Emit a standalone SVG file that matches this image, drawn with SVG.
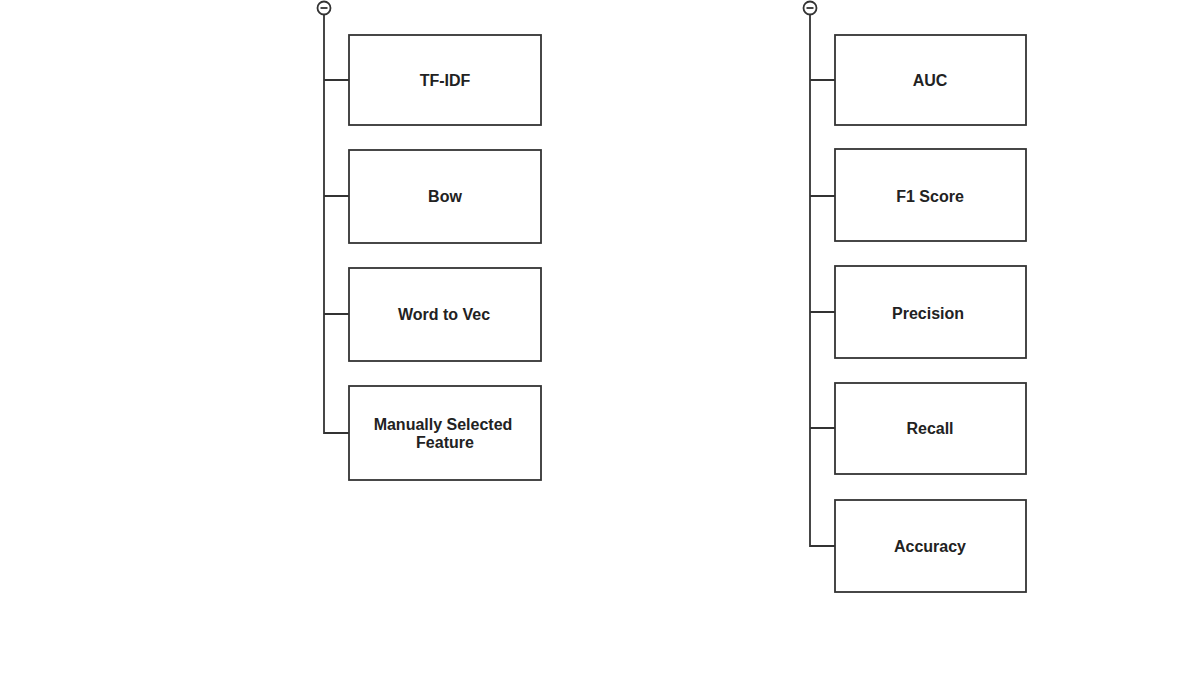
<svg xmlns="http://www.w3.org/2000/svg" width="1190" height="676" viewBox="0 0 1190 676">
<style>
.box{fill:#fff;stroke:#333;stroke-width:1.8}
.ln{fill:none;stroke:#333;stroke-width:1.8}
.t{font-family:"Liberation Sans",Arial,sans-serif;font-size:16px;font-weight:bold;fill:#222;text-anchor:middle}
</style>
<rect width="1190" height="676" fill="#fff"/>
<g id="connectors">
<circle class="ln" cx="324" cy="8" r="6.5"/><line class="ln" x1="320.5" y1="8" x2="327.5" y2="8"/>
<path class="ln" d="M324 14.5V433H349M324 80H349M324 196H349M324 314H349"/>
<circle class="ln" cx="810" cy="8" r="6.5"/><line class="ln" x1="806.5" y1="8" x2="813.5" y2="8"/>
<path class="ln" d="M810 14.5V546H835M810 80H835M810 196H835M810 312H835M810 428H835"/>
</g>
<g id="tfidf"><rect class="box" x="349" y="35" width="192" height="90"/><text class="t" x="445" y="86">TF-IDF</text></g>
<g id="bow"><rect class="box" x="349" y="150" width="192" height="93"/><text class="t" x="445" y="202">Bow</text></g>
<g id="w2v"><rect class="box" x="349" y="268" width="192" height="93"/><text class="t" x="444" y="320">Word to Vec</text></g>
<g id="manual"><rect class="box" x="349" y="386" width="192" height="94"/><text class="t" x="443" y="430">Manually Selected</text><text class="t" x="445" y="448">Feature</text></g>
<g id="auc"><rect class="box" x="835" y="35" width="191" height="90"/><text class="t" x="930" y="86">AUC</text></g>
<g id="f1"><rect class="box" x="835" y="149" width="191" height="92"/><text class="t" x="930" y="202">F1 Score</text></g>
<g id="precision"><rect class="box" x="835" y="266" width="191" height="92"/><text class="t" x="928" y="319">Precision</text></g>
<g id="recall"><rect class="box" x="835" y="383" width="191" height="91"/><text class="t" x="930" y="434">Recall</text></g>
<g id="accuracy"><rect class="box" x="835" y="500" width="191" height="92"/><text class="t" x="930" y="552">Accuracy</text></g>
</svg>
